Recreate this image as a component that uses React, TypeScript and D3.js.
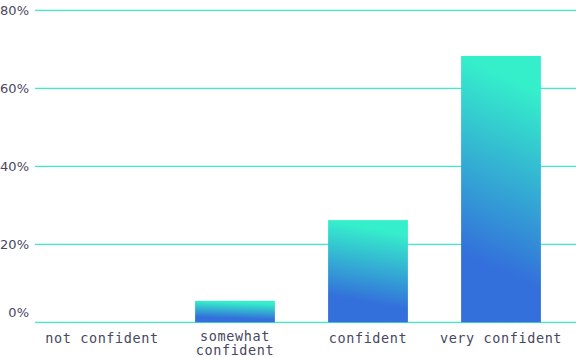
import React from "react";
import * as d3 from "d3";

const categories = ["not confident", "somewhat\nconfident", "confident", "very confident"];
const values = [0, 5.5, 26.2, 68.3];
const yTicks = [0, 20, 40, 60, 80];

const W = 576;
const H = 357;
const TEAL = "#35efcb";
const BLUE = "#3370db";
const TEXT = "#48475e";

export default function App() {
  const x = d3.scaleBand<string>().domain(categories).range([35.5, 567.5]).paddingInner(0.4).paddingOuter(0.2);
  const y = d3.scaleLinear().domain([0, 80]).range([322.3, 10.3]);

  return (
    <svg
      width={W}
      height={H}
      style={{ position: "absolute", left: 0, top: 0, background: "#fff" }}
    >
      <defs>
        <linearGradient id="barGrad" x1="0.57" y1="0" x2="0.43" y2="1">
          <stop offset="0.08" stopColor={TEAL} />
          <stop offset="0.8" stopColor={BLUE} />
          <stop offset="1" stopColor={BLUE} />
        </linearGradient>
      </defs>
      {yTicks.map((t) => (
        <g key={t}>
          <line x1={35} x2={576} y1={y(t)} y2={y(t)} stroke={TEAL} strokeWidth={1.2} />
          <text
            x={29}
            y={t === 0 ? y(t) - 9.5 : y(t)}
            textAnchor="end"
            dominantBaseline="central"
            fontFamily="'DejaVu Sans', sans-serif"
            fontSize={13}
            fill={TEXT}
          >
            {t}%
          </text>
        </g>
      ))}
      {categories.map((c, i) => {
        const v = values[i];
        const bx = x(c)!;
        return v > 0 ? (
          <rect
            key={c}
            x={bx}
            width={x.bandwidth()}
            y={y(v)}
            height={y(0) - y(v)}
            fill="url(#barGrad)"
          />
        ) : null;
      })}
      {categories.map((c) => {
        const lines = c.split("\n");
        const cx = x(c)! + x.bandwidth() / 2;
        const y0 = lines.length > 1 ? 340.5 : 342.5;
        return (
          <text
            key={"l" + c}
            textAnchor="middle"
            fontFamily="'DejaVu Sans Mono', monospace"
            fontSize={13.5}
            letterSpacing={0.6}
            fill={TEXT}
          >
            {lines.map((l, j) => (
              <tspan key={j} x={cx} y={y0 + j * 14}>
                {l}
              </tspan>
            ))}
          </text>
        );
      })}
    </svg>
  );
}
